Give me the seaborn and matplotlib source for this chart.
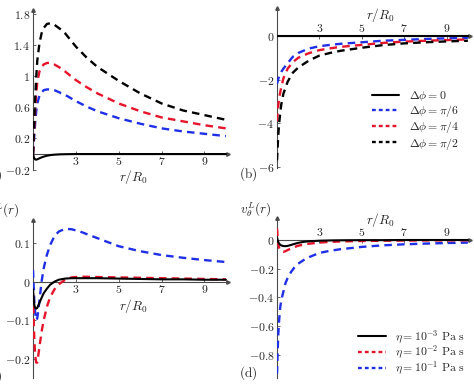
import numpy as np
import seaborn as sns
import matplotlib.pyplot as plt
from matplotlib.lines import Line2D
from matplotlib.ticker import FuncFormatter

# ---- data ----
# (a) radial component vs r/R0 for several phase differences
r_a = [1.0, 1.05, 1.1, 1.15, 1.2, 1.3, 1.4, 1.5, 1.65, 1.8, 2.0, 2.25, 2.5,
       3.0, 3.5, 4.0, 5.0, 6.0, 7.0, 8.0, 9.0, 10.0]
a_phi0 = [0, -0.05, -0.07, -0.072, -0.068, -0.055, -0.043, -0.033, -0.022, -0.014,
          -0.008, -0.004, -0.002, 0, 0, 0, 0, 0, 0, 0, 0, 0]
a_phi6 = [0, 0.2, 0.4, 0.55, 0.65, 0.75, 0.79, 0.82, 0.83, 0.83, 0.82, 0.79, 0.76,
          0.68, 0.61, 0.55, 0.46, 0.39, 0.33, 0.29, 0.26, 0.23]
a_phi4 = [0, 0.28, 0.55, 0.78, 0.92, 1.06, 1.12, 1.15, 1.17, 1.17, 1.15, 1.11, 1.06,
          0.95, 0.86, 0.78, 0.65, 0.55, 0.47, 0.42, 0.37, 0.33]
a_phi2 = [0, 0.35, 0.7, 0.98, 1.2, 1.42, 1.55, 1.62, 1.67, 1.68, 1.66, 1.61, 1.55,
          1.38, 1.24, 1.12, 0.94, 0.78, 0.65, 0.56, 0.5, 0.44]

# (b) angular component vs r/R0 for the same phase differences
r_b = [1.0, 1.05, 1.1, 1.2, 1.3, 1.5, 1.75, 2.0, 2.5, 3.0, 3.5, 4.0, 5.0, 6.0,
       7.0, 8.0, 9.0, 10.0]
b_phi0 = [0] * len(r_b)
b_phi6 = [-2.2, -2.0, -1.85, -1.65, -1.5, -1.25, -0.95, -0.78, -0.58, -0.47, -0.41,
          -0.36, -0.29, -0.22, -0.18, -0.14, -0.11, -0.09]
b_phi4 = [-3.9, -3.3, -2.85, -2.35, -1.95, -1.5, -1.2, -1.0, -0.79, -0.65, -0.57,
          -0.5, -0.41, -0.32, -0.26, -0.22, -0.19, -0.16]
b_phi2 = [-5.7, -4.7, -4.0, -3.15, -2.65, -2.1, -1.68, -1.45, -1.13, -0.9, -0.78,
          -0.68, -0.54, -0.42, -0.34, -0.29, -0.25, -0.22]

# (c) v_r^L vs r/R0 for several viscosities
r_c = [1.0, 1.03, 1.06, 1.1, 1.15, 1.2, 1.3, 1.4, 1.5, 1.65, 1.8, 2.0, 2.2, 2.5,
       2.8, 3.2, 4.0, 5.0, 6.0, 7.0, 8.0, 9.0, 10.0]
c_eta3 = [-0.02, -0.045, -0.06, -0.068, -0.07, -0.068, -0.055, -0.042, -0.03, -0.018,
          -0.008, 0.0, 0.005, 0.008, 0.009, 0.009, 0.009, 0.008, 0.007, 0.006,
          0.006, 0.005, 0.005]
c_eta2 = [-0.03, -0.09, -0.15, -0.19, -0.21, -0.21, -0.17, -0.13, -0.1, -0.065,
          -0.04, -0.02, -0.007, 0.005, 0.011, 0.013, 0.012, 0.011, 0.01, 0.009,
          0.008, 0.007, 0.006]
c_eta1 = [0.03, -0.01, -0.05, -0.08, -0.1, -0.095, -0.05, 0.0, 0.035, 0.07, 0.095,
          0.118, 0.13, 0.137, 0.136, 0.13, 0.113, 0.092, 0.079, 0.069, 0.062,
          0.056, 0.051]

# (d) v_theta^L vs r/R0 for several viscosities
r_d = [1.0, 1.03, 1.06, 1.1, 1.15, 1.2, 1.3, 1.4, 1.5, 1.65, 1.8, 2.0, 2.25, 2.5,
       3.0, 3.5, 4.0, 5.0, 6.0, 7.0, 8.0, 9.0, 10.0]
d_eta3 = [0.02, 0.0, -0.015, -0.025, -0.033, -0.038, -0.042, -0.043, -0.041, -0.035,
          -0.028, -0.02, -0.013, -0.009, -0.005, -0.003, -0.002, -0.001, -0.001,
          0, 0, 0, 0]
d_eta2 = [0.08, 0.02, -0.03, -0.055, -0.07, -0.078, -0.082, -0.078, -0.07, -0.06,
          -0.05, -0.04, -0.032, -0.026, -0.018, -0.013, -0.01, -0.007, -0.005,
          -0.004, -0.003, -0.003, -0.002]
d_eta1 = [-0.93, -0.78, -0.66, -0.56, -0.47, -0.42, -0.36, -0.3, -0.265, -0.225,
          -0.195, -0.165, -0.14, -0.12, -0.09, -0.075, -0.064, -0.048, -0.037,
          -0.03, -0.025, -0.021, -0.018]

x_ticks = [3, 5, 7, 9]
phi_labels = [r'$\Delta\phi = 0$', r'$\Delta\phi = \pi/6$',
              r'$\Delta\phi = \pi/4$', r'$\Delta\phi = \pi/2$']
eta_labels = [r'$\eta = 10^{-3}\ \mathrm{Pa\ s}$', r'$\eta = 10^{-2}\ \mathrm{Pa\ s}$',
              r'$\eta = 10^{-1}\ \mathrm{Pa\ s}$']

BLUE = '#1f2fe6'
RED = '#e6142a'
BLACK = '#000000'
AX_COL = '#4a4a4a'

sns.set_style('white')
plt.rcParams['mathtext.fontset'] = 'cm'
plt.rcParams['font.family'] = ['DejaVu Serif']

fig = plt.figure(figsize=(4.74, 3.87), dpi=100)
W, H = 474, 387


def make_ax(left, top, right, bottom):
    return fig.add_axes([left / W, 1 - bottom / H, (right - left) / W, (bottom - top) / H])


ax_a = make_ax(33, 10, 228, 170)
ax_b = make_ax(277, 8, 470, 168)
ax_c = make_ax(33, 220, 228, 378)
ax_d = make_ax(277, 218, 470, 378)
# keep the top row above the bottom row so its lowest tick labels are not hidden
ax_a.set_zorder(5)
ax_b.set_zorder(5)

fmt = FuncFormatter(lambda v, p: f'${v:g}$')


def style(ax, ylim, yticks, top_labels):
    ax.set_xlim(1, 10.1)
    ax.set_ylim(*ylim)
    ax.set_xticks(x_ticks)
    ax.set_yticks(yticks)
    ax.xaxis.set_major_formatter(fmt)
    ax.yaxis.set_major_formatter(fmt)
    for s in ax.spines.values():
        s.set_color(AX_COL)
        s.set_linewidth(0.8)
    ax.spines['right'].set_visible(False)
    if top_labels:
        ax.spines['bottom'].set_visible(False)
        ax.spines['top'].set_position(('data', 0))
        ax.xaxis.set_ticks_position('top')
    else:
        ax.spines['top'].set_visible(False)
        ax.spines['bottom'].set_position(('data', 0))
        ax.xaxis.set_ticks_position('bottom')
    ax.yaxis.set_ticks_position('left')
    ax.tick_params(axis='both', direction='in', length=2.5, width=0.6,
                   color=AX_COL, labelsize=8.5, pad=2)
    ax.tick_params(axis='x', pad=1)
    ax.set_xlabel('')
    ax.set_ylabel('')
    ax.patch.set_alpha(0)
    # small arrow heads at the axis ends
    ax.plot([0], [1], marker='^', ms=2.5, color=AX_COL, transform=ax.transAxes, clip_on=False)
    ax.plot([1], [0], marker='>', ms=2.5, color=AX_COL,
            transform=ax.get_yaxis_transform(), clip_on=False)


def curve(ax, x, y, color, dashed):
    sns.lineplot(x=x, y=y, ax=ax, color=color, sort=False, estimator=None,
                 lw=1.7 if dashed else 1.5, zorder=3)
    line = ax.lines[-1]
    if dashed:
        line.set_dashes((3.2, 2.2))


# (a)
curve(ax_a, r_a, a_phi6, BLUE, True)
curve(ax_a, r_a, a_phi4, RED, True)
curve(ax_a, r_a, a_phi2, BLACK, True)
curve(ax_a, r_a, a_phi0, BLACK, False)
style(ax_a, (-0.205, 1.85), [-0.2, 0.2, 0.6, 1, 1.4, 1.8], False)
ax_a.text(0.513, -0.045, r'$r/R_0$', transform=ax_a.transAxes, ha='center', va='center', fontsize=9.5)

# (b)
curve(ax_b, r_b, b_phi6, BLUE, True)
curve(ax_b, r_b, b_phi4, RED, True)
curve(ax_b, r_b, b_phi2, BLACK, True)
curve(ax_b, r_b, b_phi0, BLACK, False)
style(ax_b, (-6.05, 1.28), [-6, -4, -2, 0], True)
ax_b.text(0.534, 0.955, r'$r/R_0$', transform=ax_b.transAxes, ha='center', va='center', fontsize=9.5)

# (c)
curve(ax_c, r_c, c_eta1, BLUE, True)
curve(ax_c, r_c, c_eta2, RED, True)
curve(ax_c, r_c, c_eta3, BLACK, False)
style(ax_c, (-0.25, 0.16), [-0.2, -0.1, 0, 0.1], False)
ax_c.text(0.513, 0.455, r'$r/R_0$', transform=ax_c.transAxes, ha='center', va='center', fontsize=9.5)

# (d)
curve(ax_d, r_d, d_eta1, BLUE, True)
curve(ax_d, r_d, d_eta2, RED, True)
curve(ax_d, r_d, d_eta3, BLACK, False)
style(ax_d, (-0.96, 0.153), [-0.8, -0.6, -0.4, -0.2, 0], True)
ax_d.text(0.534, 0.985, r'$r/R_0$', transform=ax_d.transAxes, ha='center', va='center', fontsize=9.5)

# legends
def handles(colors):
    out = []
    for i, c in enumerate(colors):
        if i == 0:
            out.append(Line2D([], [], color=c, lw=1.5))
        else:
            out.append(Line2D([], [], color=c, lw=1.7, dashes=(1.6, 1.3)))
    return out


ax_b.legend(handles(['black', BLUE, RED, 'black']), phi_labels, loc='upper left',
            bbox_to_anchor=(0.49, 0.495), frameon=False, fontsize=8.5,
            handlelength=2.3, handletextpad=0.9, labelspacing=0.02,
            borderpad=0, borderaxespad=0)
ax_d.legend(handles(['black', RED, BLUE]), eta_labels, loc='upper left',
            bbox_to_anchor=(0.42, 0.31), frameon=False, fontsize=8.5,
            handlelength=2.4, handletextpad=0.7, labelspacing=-0.12,
            borderpad=0, borderaxespad=0)

# panel labels and axis titles (partly cropped at the left edge)
fig.text(3 / W, 1 - 175 / H, r'$\mathrm{(a)}$', ha='right', va='center', fontsize=9.5)
fig.text(239 / W, 1 - 174 / H, r'$\mathrm{(b)}$', ha='left', va='center', fontsize=9.5)
fig.text(3 / W, 1 - 376 / H, r'$\mathrm{(c)}$', ha='right', va='center', fontsize=9.5)
fig.text(239 / W, 1 - 373 / H, r'$\mathrm{(d)}$', ha='left', va='center', fontsize=9.5)
fig.text(19 / W, 1 - 211 / H, r'$v_r^L(r)$', ha='right', va='center', fontsize=9.5)
fig.text(240 / W, 1 - 210 / H, r'$v_\theta^L(r)$', ha='left', va='center', fontsize=9.5)

fig.savefig('out.png', dpi=100)
